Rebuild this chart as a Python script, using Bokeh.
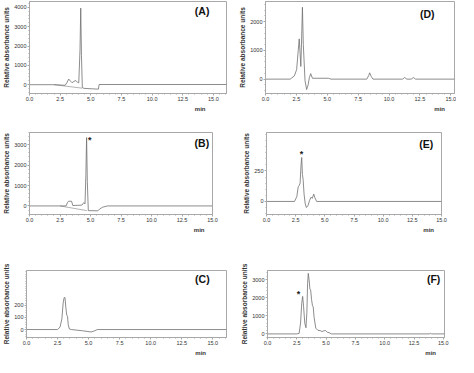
from bokeh.plotting import figure
from bokeh.models import Range1d, FixedTicker, Label, Title, NumeralTickFormatter, AllLabels
from bokeh.layouts import row, column
from bokeh.embed import file_html
from bokeh.resources import INLINE

# ---------------- data (time in min, relative absorbance units) ----------------
a_time = [0, 2.0, 2.9, 3.05, 3.2, 3.35, 3.47, 3.62, 3.78, 3.92, 4.02, 4.12, 4.18, 4.24, 4.31, 4.45, 5.6, 5.62, 5.68, 16.1]
a_signal = [0, 0, -30, 100, 290, 180, 100, 170, 215, 120, 100, 1800, 3960, 1500, -150, -190, -230, -230, 10, 10]
a_base_time = [2.0, 4.3]
a_base_signal = [0, -180]

b_time = [0, 2.5, 3.0, 3.1, 3.2, 3.45, 3.55, 4.3, 4.45, 4.55, 4.62, 4.68, 4.74, 4.82, 5.6, 5.75, 6.0, 6.4, 15]
b_signal = [0, 0, 0, 150, 230, 230, 20, 40, 160, 100, 1500, 3350, 1200, -230, -240, -150, -60, 0, 0]
b_base_time = [2.5, 4.7]
b_base_signal = [0, -230]

c_time = [0, 2.5, 2.7, 2.85, 2.95, 3.03, 3.1, 3.17, 3.24, 3.3, 3.36, 3.45, 3.6, 4.5, 5.2, 5.5, 5.7, 16.1]
c_signal = [0, 0, 20, 90, 220, 265, 265, 180, 120, 110, 40, 5, 0, -10, -20, -10, 0, 0]

d_time = [0, 2.0, 2.33, 2.52, 2.65, 2.73, 2.8, 2.86, 2.93, 2.99, 3.06, 3.2, 3.33, 3.45, 3.55, 3.66, 3.8, 5.1, 5.3,
          8.2, 8.35, 8.43, 8.55, 8.7, 11.1, 11.26, 11.45, 11.8, 11.97, 12.15, 15.3]
d_signal = [0, 0, 110, 330, 1000, 1400, 900, 440, 1500, 2500, 1200, -50, -363, -200, 50, 190, 30, 30, 0,
            0, 120, 220, 100, 0, 0, 56, 0, 0, 56, 0, 0]

e_time = [0, 2.4, 2.6, 2.72, 2.8, 2.88, 2.96, 3.02, 3.08, 3.14, 3.22, 3.32, 3.42, 3.55, 3.7, 3.82, 3.92, 4.05, 4.15, 4.3, 15]
e_signal = [0, 0, 40, 120, 130, 150, 300, 360, 220, 180, 60, -20, -50, -35, 10, 35, 25, 60, 30, 0, 0]

f_time = [0, 2.5, 2.7, 2.82, 2.92, 3.0, 3.08, 3.18, 3.28, 3.36, 3.42, 3.48, 3.55, 3.62, 3.68, 3.76, 3.84, 3.9,
          3.98, 4.12, 4.3, 4.5, 4.65, 4.8, 4.95, 5.1, 5.25, 5.45, 13.8, 13.9, 14.0, 15.1]
f_signal = [0, 0, 30, 600, 1700, 2080, 1500, 600, 340, 1200, 2800, 3360, 3000, 2480, 2450, 1900, 1560, 1500,
            900, 320, 200, 180, 130, 170, 190, 90, 70, 0, 0, 30, 0, 0]

# labelled y ticks per panel
a_yticks = [0, 1000, 2000, 3000, 4000]
b_yticks = [0, 1000, 2000, 3000]
c_yticks = [0, 100, 200]
d_yticks = [0, 1000, 2000]
e_yticks = [0, 250]
f_yticks = [0, 1000, 2000, 3000]
x_ticks = [0, 2.5, 5.0, 7.5, 10.0, 12.5, 15.0]

# asterisks marking the peak of interest
star_panels = ["B", "E", "F"]
star_time = [4.94, 3.0, 2.64]
star_signal = [3245, 388, 2213]

y_axis_title = "Relative absorbance units"
x_unit = "min"

TRACE = "#707070"
FRAME = "#a8a8a8"
TXT = "#333333"
FONT = "Liberation Sans"


def minor_list(lo, hi, step):
    out = []
    v = lo
    while v <= hi:
        out.append(round(v, 6))
        v += step
    return out


def panel(name, t, s, base, w, h, borders, xr, yr, yticks, ystep, min_offset, label_xy):
    bl, br, bt, bb = borders
    p = figure(width=w, height=h, output_backend="svg", toolbar_location=None,
               x_range=Range1d(*xr), y_range=Range1d(*yr),
               min_border_left=bl, min_border_right=br, min_border_top=bt, min_border_bottom=bb)
    p.background_fill_color = "white"
    p.border_fill_color = "white"
    p.outline_line_color = FRAME
    p.outline_line_width = 1
    p.xgrid.visible = False
    p.ygrid.visible = False

    p.xaxis.ticker = FixedTicker(ticks=x_ticks, minor_ticks=minor_list(0, xr[1], 0.5))
    p.yaxis.ticker = FixedTicker(ticks=yticks, minor_ticks=minor_list(ystep * int(yr[0] / ystep), yr[1], ystep))
    p.xaxis.formatter = NumeralTickFormatter(format="0.0")
    p.yaxis.formatter = NumeralTickFormatter(format="0")

    for ax in (p.xaxis, p.yaxis):
        ax.major_label_policy = AllLabels()
        ax.axis_line_color = FRAME
        ax.major_tick_line_color = FRAME
        ax.minor_tick_line_color = FRAME
        ax.major_tick_out = 2
        ax.major_tick_in = 0
        ax.minor_tick_out = 1
        ax.minor_tick_in = 0
        ax.major_label_text_font = FONT
        ax.major_label_text_font_size = "5.5px"
        ax.major_label_text_color = TXT
        ax.major_label_standoff = 1

    p.yaxis.axis_label = y_axis_title
    p.yaxis.axis_label_text_font = FONT
    p.yaxis.axis_label_text_font_size = "6.5px"
    p.yaxis.axis_label_text_font_style = "bold"
    p.yaxis.axis_label_text_color = "#333333"
    p.yaxis.axis_label_standoff = 1

    p.add_layout(Title(text=x_unit, align="right", offset=min_offset, standoff=0,
                       text_font=FONT, text_font_size="6px", text_font_style="bold",
                       text_color="#333333"), "below")

    if base is not None:
        p.line(base[0], base[1], line_color="#909090", line_width=0.7)
    p.line(t, s, line_color=TRACE, line_width=0.8)

    p.add_layout(Label(x=label_xy[0], y=label_xy[1], text="(" + name + ")",
                       text_align="center", text_baseline="middle",
                       text_font=FONT, text_font_size="10.5px", text_font_style="bold",
                       text_color="#111111"))
    if name in star_panels:
        i = star_panels.index(name)
        p.add_layout(Label(x=star_time[i], y=star_signal[i], text="*",
                           text_align="center", text_baseline="middle",
                           text_font=FONT, text_font_size="9px", text_font_style="bold",
                           text_color="#222222"))
    return p


W = 228
pA = panel("A", a_time, a_signal, (a_base_time, a_base_signal), W, 116, (26, 2, 1, 23),
           (0, 16.07), (-455, 4300), a_yticks, 200, 21, (14.08, 3790))
pD = panel("D", d_time, d_signal, None, W, 116, (37, 2, 1, 23),
           (0, 15.3), (-500, 2700), d_yticks, 200, 9.5, (13.1, 2277))
pB = panel("B", b_time, b_signal, (b_base_time, b_base_signal), W, 122, (26, 16, 10, 24),
           (0, 15.0), (-420, 3600), b_yticks, 200, 8, (14.13, 3100))
pE = panel("E", e_time, e_signal, None, W, 122, (38, 15, 16, 24),
           (0, 15.0), (-107, 565), e_yticks, 50, 7.5, (13.7, 471))
pC = panel("C", c_time, c_signal, None, W, 117, (26, 2, 32, 16),
           (0, 16.1), (-66, 490), c_yticks, 20, 20.5, (14.16, 420))
pF = panel("F", f_time, f_signal, None, W, 117, (39, 12, 13, 16),
           (0, 15.1), (-200, 3520), f_yticks, 200, 8.5, (14.17, 3071))

layout = column(row(pA, pD), row(pB, pE), row(pC, pF))
open("out.html", "w").write(file_html(layout, INLINE))
